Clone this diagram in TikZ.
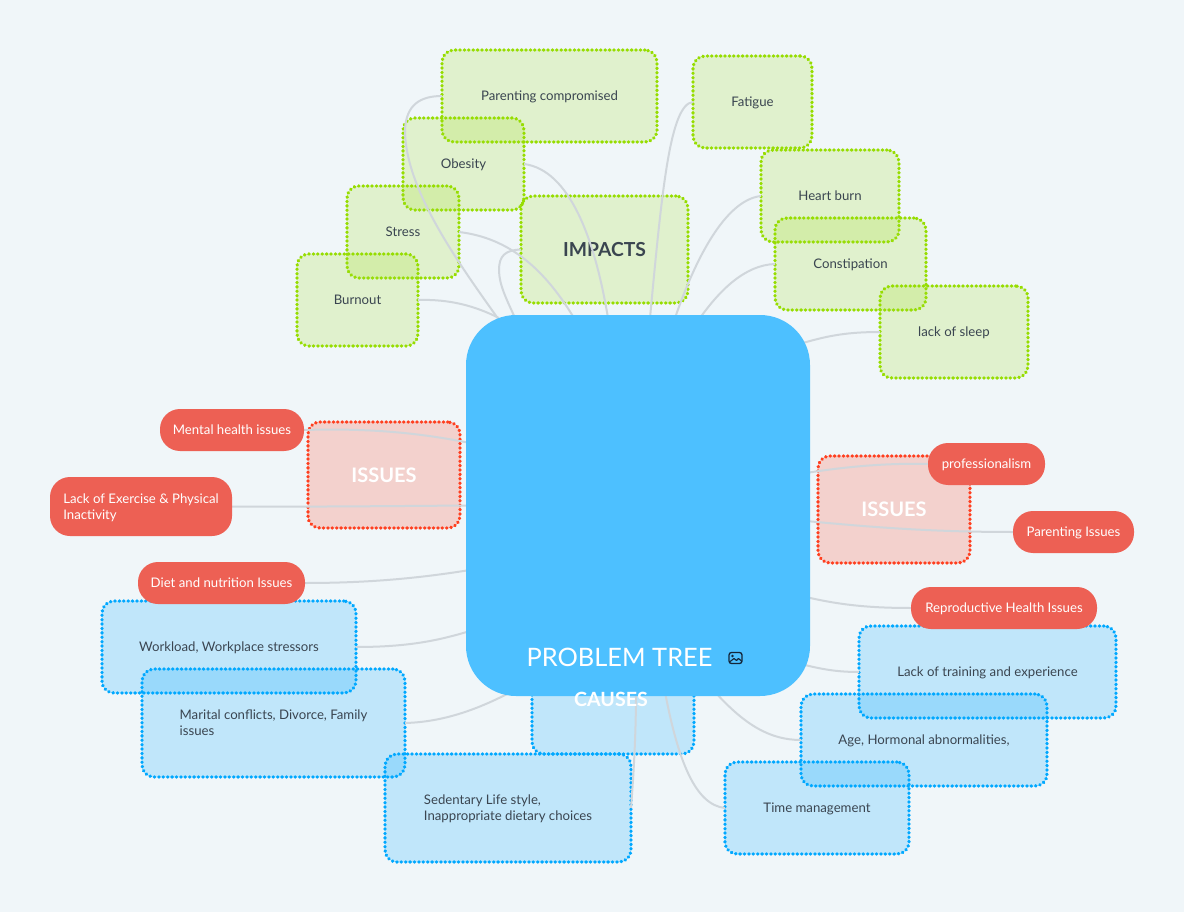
\documentclass[tikz,border=0pt]{standalone}
\usepackage{fontspec}
\setmainfont{Lato}
\definecolor{bgc}{HTML}{F0F6F9}
\definecolor{gs}{HTML}{96DD00}
\definecolor{gf}{HTML}{A0DE20}
\definecolor{bs}{HTML}{00A8FF}
\definecolor{rs}{HTML}{FF3F1F}
\definecolor{pill}{HTML}{ED6054}
\definecolor{rootc}{HTML}{4DC0FF}
\definecolor{linkc}{HTML}{D0D6DB}
\definecolor{ink}{HTML}{3A4550}
\definecolor{iconc}{HTML}{14263A}
\newcommand{\textdrop}{-4.3pt}
\tikzset{
  boxbase/.style={rectangle,rounded corners=12,inner sep=0,outer sep=0,line width=3.4,line cap=round,
    dash pattern=on 0.4pt off 4pt,fill opacity=.2,text opacity=1,text=ink,
    font=\fontsize{13.2}{16}\selectfont},
  gbox/.style={boxbase,draw=gs,fill=gf},
  bbox/.style={boxbase,draw=bs,fill=bs},
  rbox/.style={boxbase,draw=rs,fill=rs},
  headdark/.style={font=\fontsize{19.3}{22}\selectfont\bfseries,text=ink,execute at begin node={\def\textdrop{-7.8pt}}},
  headwhite/.style={font=\fontsize{20}{22}\selectfont\bfseries,text=white,execute at begin node={\def\textdrop{-7.8pt}}},
  pillnode/.style={rectangle,rounded corners=20,inner sep=0,outer sep=0,fill=pill,text=white,
    font=\fontsize{13.2}{16}\selectfont},
  link/.style={draw=linkc,line width=2},
  rootnode/.style={rectangle,rounded corners=50,inner sep=0,outer sep=0,fill=rootc},
}
\newcommand{\placebox}[7]{% name, x1,y1,x2,y2, style, text
  \pgfmathsetmacro{\bw}{#4-#2}\pgfmathsetmacro{\bh}{#5-#3}
  \pgfmathsetmacro{\bx}{(#2+#4)/2}\pgfmathsetmacro{\by}{(#3+#5)/2}
  \node[#6,minimum width=\bw pt,minimum height=\bh pt] (#1) at (\bx,\by)
    {\raisebox{\textdrop}[0pt][0pt]{\begin{tabular}[c]{@{}l@{}}#7\end{tabular}}};
}
\begin{document}
\begin{tikzpicture}[x=1pt,y=-1pt]
\useasboundingbox (0,0) rectangle (1184,912);
\fill[bgc] (0,0) rectangle (1184,912);
% translucent boxes
\placebox{parenting}{442}{50}{657}{142}{gbox}{Parenting compromised}
\placebox{obesity}{403}{118}{524}{210}{gbox}{Obesity}
\placebox{stress}{347}{186}{459}{278}{gbox}{Stress}
\placebox{burnout}{297}{254}{418}{346}{gbox}{Burnout}
\placebox{impacts}{521}{196}{688}{303}{gbox,headdark}{IMPACTS}
\placebox{fatigue}{693}{56}{812}{148}{gbox}{Fatigue}
\placebox{heart}{761}{150}{899}{242}{gbox}{Heart burn}
\placebox{constip}{775}{218}{926}{310}{gbox}{Constipation}
\placebox{sleep}{880}{286}{1028}{378}{gbox}{lack of sleep}
\placebox{issuesL}{308}{422}{460}{528}{rbox,headwhite}{ISSUES}
\placebox{issuesR}{818}{456}{970}{563}{rbox,headwhite}{ISSUES}
\placebox{workload}{102}{601}{356}{693}{bbox}{Workload, Workplace stressors}
\placebox{marital}{142}{669}{405}{777}{bbox}{Marital conflicts, Divorce, Family\\issues}
\placebox{causes}{532}{646}{694}{754}{bbox}{}
\placebox{sedentary}{385}{754}{631}{862}{bbox}{Sedentary Life style,\\Inappropriate dietary choices}
\placebox{training}{859}{626}{1116}{718}{bbox}{Lack of training and experience}
\placebox{age}{801}{694}{1047}{786}{bbox}{Age, Hormonal abnormalities,}
\placebox{timem}{725}{762}{909}{854}{bbox}{Time management}
\pgfdeclarelayer{front}\pgfsetlayers{main,front}
\begin{pgfonlayer}{front}
\placebox{root}{466}{315}{810}{696}{rootnode}{}
\placebox{mental}{160}{409}{304}{451}{pillnode}{Mental health issues}
\placebox{lackex}{50}{477}{232}{536}{pillnode}{Lack of Exercise \& Physical\\Inactivity}
\placebox{diet}{138}{562}{305}{604}{pillnode}{Diet and nutrition Issues}
\placebox{prof}{928}{443}{1045}{485}{pillnode}{professionalism}
\placebox{parissues}{1013}{511}{1134}{553}{pillnode}{Parenting Issues}
\placebox{repro}{911}{587}{1097}{629}{pillnode}{Reproductive Health Issues}
\node[font=\fontsize{25.4}{28}\selectfont,text=white] (title) at (619.5,657.8) {PROBLEM TREE};
\node[font=\fontsize{19.6}{22}\selectfont\bfseries,text=white] (causeslabel) at (611,699.5) {CAUSES};
% image icon
\draw[iconc,line width=1.3,rounded corners=2.5] (729,652.5) rectangle (742,663.5);
\fill[iconc] (732.5,656) circle (1.4);
\draw[iconc,line width=1.1,line join=round] (729.5,662) -- (734,658.5) -- (736.5,660.5) -- (738.5,658.5) -- (741.5,661);
\end{pgfonlayer}
% attachment points on the root
\coordinate (rBurnout) at (499,318);
\coordinate (rStress) at (574,318);
\coordinate (rObesity) at (608,318);
\coordinate (rParenting) at (499,320);
\coordinate (rImpacts) at (515,318);
\coordinate (rFatigue) at (650,318);
\coordinate (rHeart) at (675,318);
\coordinate (rConstip) at (700,318);
\coordinate (rSleep) at (803,343);
\coordinate (rMental) at (470,443);
\coordinate (rLackex) at (470,505.5);
\coordinate (rDiet) at (470,570);
\coordinate (rWorkload) at (470,631);
\coordinate (rMarital) at (509,693);
\coordinate (rSedentary) at (636,692);
\coordinate (rTime) at (665,692);
\coordinate (rAge) at (715,692);
\coordinate (rTraining) at (805,665);
\coordinate (rRepro) at (806,597);
\coordinate (rParissues) at (806,521);
\coordinate (rProf) at (806,473);
\coordinate (parBend) at (405,130);
\coordinate (impBend) at (499,270);
% connectors
\draw[link] (burnout.east) .. controls (450,299) and (475,306) .. (rBurnout);
\draw[link] (stress.east) .. controls (510,238) and (545,270) .. (rStress);
\draw[link] (obesity.east) .. controls (570,170) and (595,240) .. (rObesity);
\draw[link] (parenting.west) .. controls (420,96) and (406,105) .. (parBend) .. controls (405,190) and (460,265) .. (rParenting);
\draw[link] (impacts.west) .. controls (505,250) and (499,256) .. (impBend) .. controls (499,285) and (507,300) .. (rImpacts);
\draw[link] (fatigue.west) .. controls (670,104) and (662,190) .. (rFatigue);
\draw[link] (heart.west) .. controls (725,200) and (695,260) .. (rHeart);
\draw[link] (constip.west) .. controls (745,265) and (720,290) .. (rConstip);
\draw[link] (sleep.west) .. controls (850,332) and (830,335) .. (rSleep);
\draw[link] (mental.east) .. controls (370,428) and (420,433) .. (rMental);
\draw[link] (lackex.east) .. controls (300,507) and (400,506) .. (rLackex);
\draw[link] (diet.east) .. controls (370,583) and (420,578) .. (rDiet);
\draw[link] (workload.east) .. controls (410,647) and (440,640) .. (rWorkload);
\draw[link] (marital.east) .. controls (445,722) and (480,708) .. (rMarital);
\draw[link] (sedentary.east) .. controls (634,770) and (636,730) .. (rSedentary);
\draw[link] (timem.west) .. controls (695,805) and (678,760) .. (rTime);
\draw[link] (age.west) .. controls (770,740) and (745,725) .. (rAge);
\draw[link] (training.west) .. controls (840,672) and (825,670) .. (rTraining);
\draw[link] (repro.west) .. controls (870,608) and (840,605) .. (rRepro);
\draw[link] (parissues.west) .. controls (930,532) and (870,527) .. (rParissues);
\draw[link] (prof.west) .. controls (890,463) and (850,466) .. (rProf);
\end{tikzpicture}
\end{document}
